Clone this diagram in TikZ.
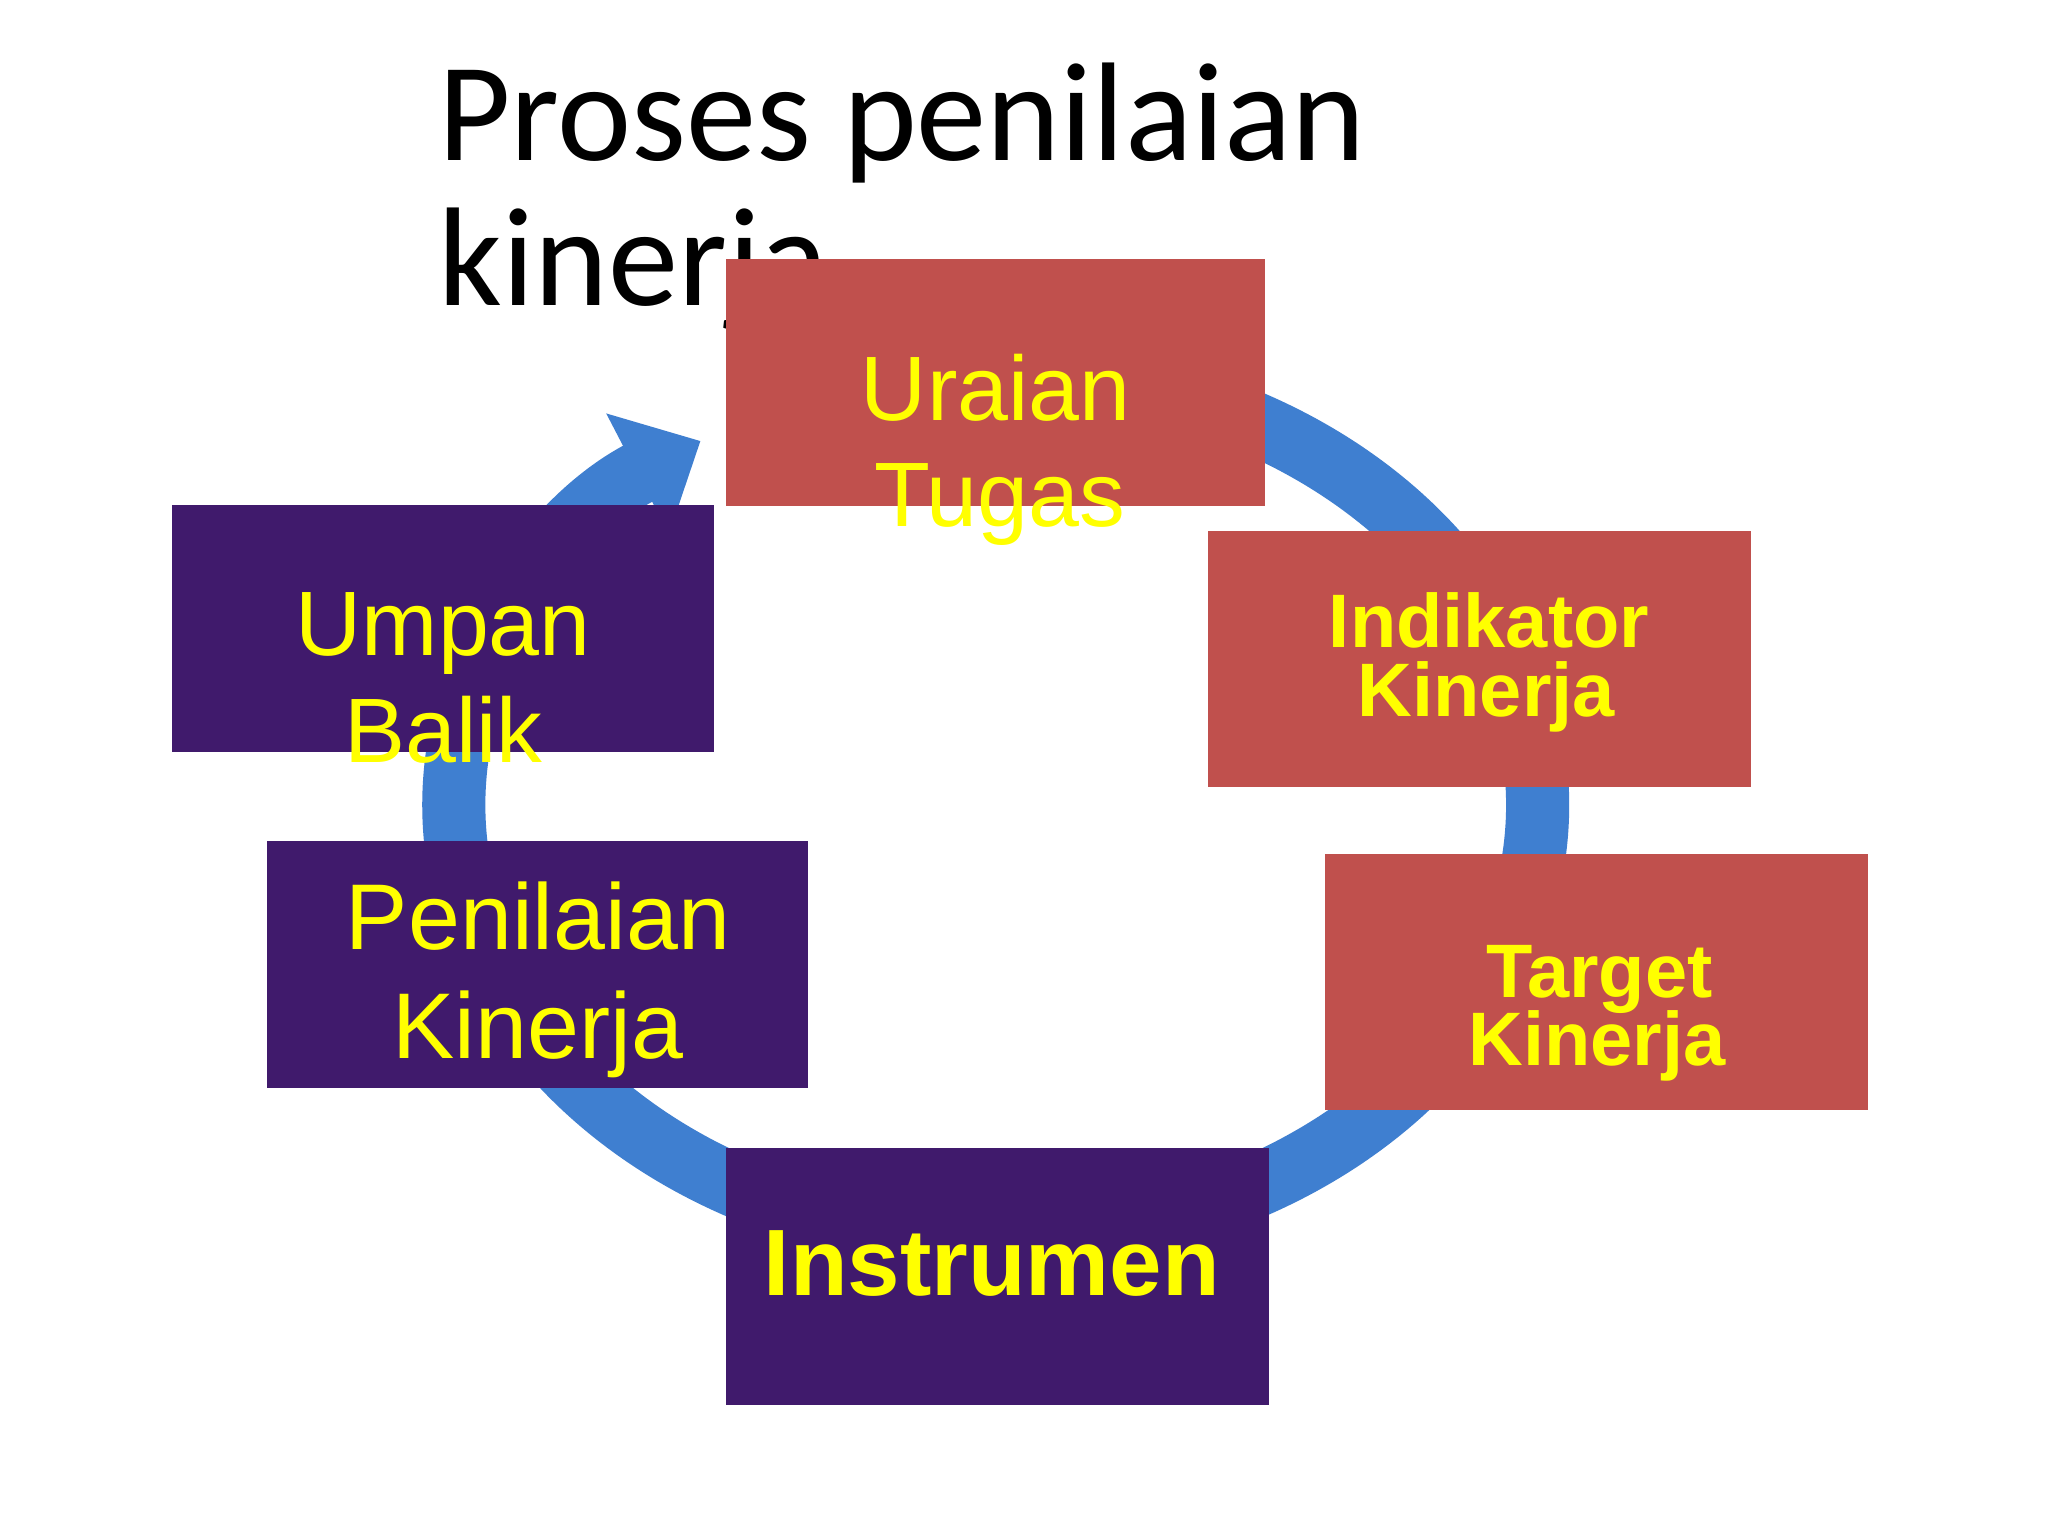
\documentclass[tikz,border=0pt]{standalone}
\usepackage{fontspec}
\setmainfont{Liberation Sans}
\newfontfamily\titlefont{Carlito}
\usetikzlibrary{arrows.meta}
\definecolor{boxred}{HTML}{C0504D}
\definecolor{boxpurple}{HTML}{401A6C}
\definecolor{ringblue}{HTML}{3F7FD0}
\definecolor{txtyellow}{HTML}{FFFF00}
\begin{document}
\begin{tikzpicture}[x=0.05cm,y=-0.05cm,
  redbox/.style={fill=boxred},
  purplebox/.style={fill=boxpurple},
  lbl/.style={text=txtyellow,anchor=base,inner sep=0pt},
  lblN/.style={lbl,font=\fontsize{99}{110}\selectfont},
  lblB/.style={lbl,font=\bfseries\fontsize{82}{95}\selectfont}]
\useasboundingbox (0,0) rectangle (1557,1168);
\fill[white] (0,0) rectangle (1557,1168);
% title
\node[anchor=base west,inner sep=0pt,font=\titlefont\fontsize{152}{170}\selectfont] (t1) at (333,122) {Proses penilaian};
\node[anchor=base west,inner sep=0pt,font=\titlefont\fontsize{152}{170}\selectfont] (t2) at (333,232) {kinerja};
% ring
\coordinate (c) at (757,612);
\draw[ringblue,line width=2.4cm,-{Triangle[width=5cm,length=2.7cm]}]
  ([shift={(-90:412 and 330)}]c) arc[start angle=-90,end angle=237,x radius=412,y radius=330];
% boxes
\fill[redbox] (552,197) rectangle (962,385) coordinate (b1);
\fill[redbox] (918,404) rectangle (1331,598) coordinate (b2);
\fill[redbox] (1007,649) rectangle (1420,844) coordinate (b3);
\fill[purplebox] (552,873) rectangle (965,1068) coordinate (b4);
\fill[purplebox] (203,639) rectangle (614,827) coordinate (b5);
\fill[purplebox] (131,384) rectangle (543,572) coordinate (b6);
% labels
\node[lblN] (u1) at (757,320) {Uraian};
\node[lblN] (u2) at (760,400) {Tugas};
\node[lblB] (i1) at (1132,492) {Indikator};
\node[lblB] (i2) at (1130,545) {Kinerja};
\node[lblB] (g1) at (1216,758) {Target};
\node[lblB] (g2) at (1214,810) {Kinerja};
\node[lbl,font=\bfseries\fontsize{102}{115}\selectfont] (n1) at (754,985) {Instrumen};
\node[lblN,font=\fontsize{101}{115}\selectfont] (p1) at (409,722) {Penilaian};
\node[lblN,font=\fontsize{101}{115}\selectfont] (p2) at (409,805) {Kinerja};
\node[lblN] (m1) at (337,498) {Umpan};
\node[lblN] (m2) at (337,580) {Balik};
\end{tikzpicture}
\end{document}
